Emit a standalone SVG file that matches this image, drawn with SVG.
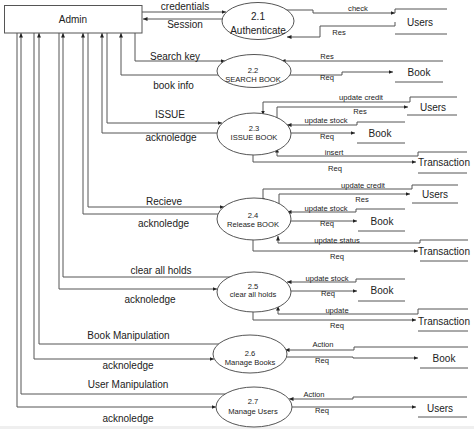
<svg xmlns="http://www.w3.org/2000/svg" width="474" height="429" viewBox="0 0 474 429">
<defs>
<marker id="ah" markerWidth="5" markerHeight="5" refX="4.5" refY="2.5" orient="auto" markerUnits="userSpaceOnUse">
<path d="M0,0.5 L4.5,2.5 L0,4.5 Z" fill="#222"/>
</marker>
<style>
.ln{fill:none;stroke:#555;stroke-width:1}
.ar{marker-end:url(#ah)}
.nd{fill:#fff;stroke:#555;stroke-width:1}
.st{fill:none;stroke:#555;stroke-width:1}
text{font-family:"Liberation Sans",Arial,sans-serif;fill:#222;text-anchor:middle}
.lb{font-size:10px}
.sm{font-size:7.6px}
.pn{font-size:7.6px}
.big{font-size:10px}
</style>
</defs>
<rect x="0" y="0" width="474" height="429" fill="#fff"/>
<rect x="0" y="426" width="474" height="3" fill="#efefef"/>

<g id="connectors">
<!-- Admin <-> processes -->
<path class="ln ar" d="M142,12 H226"/>
<path class="ln ar" d="M240,19 H143"/>
<path class="ln ar" d="M135,33 V61 H225"/>
<path class="ln ar" d="M240,75 H121 V33"/>
<path class="ln ar" d="M107,33 V123 H222"/>
<path class="ln ar" d="M240,133 H102 V33"/>
<path class="ln ar" d="M88,33 V207 H224"/>
<path class="ln ar" d="M240,214 H83 V33"/>
<path class="ln ar" d="M240,277 H63 V33"/>
<path class="ln ar" d="M59,33 V289 H217"/>
<path class="ln ar" d="M240,344 H39 V33"/>
<path class="ln ar" d="M34,33 V359 H214"/>
<path class="ln ar" d="M240,394 H21 V33"/>
<path class="ln ar" d="M17,33 V407 H216"/>
<!-- 2.1 -->
<path class="ln ar" d="M280,10 H313 V13 H395"/>
<path class="ln ar" d="M395,22 V26 H320 V37 H287"/>
<!-- 2.2 -->
<path class="ln ar" d="M395,61 H281"/>
<path class="ln ar" d="M280,75 H342 V72 H393"/>
<!-- 2.3 -->
<path class="ln ar" d="M410,97 V102 H263 V115"/>
<path class="ln ar" d="M277,125 V107 H408"/>
<path class="ln ar" d="M357,122 V125 H287"/>
<path class="ln ar" d="M280,133 H355"/>
<path class="ln ar" d="M418,152 V156 H277 V148"/>
<path class="ln ar" d="M253,145 V162 H416"/>
<!-- 2.4 -->
<path class="ln ar" d="M412,185 V189 H263 V202"/>
<path class="ln ar" d="M279,210 V194 H410"/>
<path class="ln ar" d="M356,209 V212 H287"/>
<path class="ln ar" d="M280,221 H357"/>
<path class="ln ar" d="M420,240 V243 H278 V236"/>
<path class="ln ar" d="M253,230 V251 H418"/>
<!-- 2.5 -->
<path class="ln ar" d="M356,279 V282 H287"/>
<path class="ln ar" d="M280,291 H357"/>
<path class="ln ar" d="M418,309 V314 H278 V306"/>
<path class="ln ar" d="M253,300 V320 H416"/>
<!-- 2.6 -->
<path class="ln ar" d="M420,347 H354 V350 H285"/>
<path class="ln ar" d="M270,357 H353 V358 H418"/>
<!-- 2.7 -->
<path class="ln ar" d="M418,397 H353 V399 H289"/>
<path class="ln ar" d="M270,407 H416"/>

<!-- connector labels -->
<text class="lb" x="185" y="9.5">credentials</text>
<text class="lb" x="185" y="28">Session</text>
<text class="lb" x="175" y="60">Search key</text>
<text class="lb" x="173.5" y="88.5">book info</text>
<text class="lb" x="170" y="118">ISSUE</text>
<text class="lb" x="171" y="140.5">acknoledge</text>
<text class="lb" x="164" y="204.5">Recieve</text>
<text class="lb" x="163.5" y="226.5">acknoledge</text>
<text class="lb" x="161" y="273.5">clear all holds</text>
<text class="lb" x="150" y="302.5">acknoledge</text>
<text class="lb" x="128.5" y="338.5">Book Manipulation</text>
<text class="lb" x="128" y="369">acknoledge</text>
<text class="lb" x="128" y="388">User Manipulation</text>
<text class="lb" x="128" y="421.5">acknoledge</text>

<text class="sm" x="358" y="11">check</text>
<text class="sm" x="339" y="35">Res</text>
<text class="sm" x="327" y="59">Res</text>
<text class="sm" x="327" y="79.5">Req</text>
<text class="sm" x="361" y="100">update credit</text>
<text class="sm" x="360" y="114">Res</text>
<text class="sm" x="326" y="122.5">update stock</text>
<text class="sm" x="327" y="139">Req</text>
<text class="sm" x="334" y="154.5">insert</text>
<text class="sm" x="335" y="170.5">Req</text>
<text class="sm" x="363" y="187.5">update credit</text>
<text class="sm" x="362" y="202">Res</text>
<text class="sm" x="326" y="211">update stock</text>
<text class="sm" x="327" y="226">Req</text>
<text class="sm" x="337" y="243">update status</text>
<text class="sm" x="337" y="259">Req</text>
<text class="sm" x="327" y="280.5">update stock</text>
<text class="sm" x="328" y="296">Req</text>
<text class="sm" x="337" y="313">update</text>
<text class="sm" x="337" y="328">Req</text>
<text class="sm" x="323" y="347">Action</text>
<text class="sm" x="322" y="363">Req</text>
<text class="sm" x="314" y="396.5">Action</text>
<text class="sm" x="322" y="413">Req</text>
</g>

<g id="admin">
<rect class="nd" x="4.5" y="5.5" width="137.5" height="27.5"/>
<text class="big" x="73" y="22.5">Admin</text>
</g>

<g id="p21">
<ellipse class="nd" cx="258" cy="21" rx="36" ry="18.5"/>
<text class="big" x="258" y="20">2.1</text>
<text class="big" x="258" y="33.5">Authenticate</text>
</g>
<g id="p22">
<ellipse class="nd" cx="254" cy="71" rx="37" ry="16.5"/>
<text class="pn" x="253" y="73">2.2</text>
<text class="pn" x="253" y="82">SEARCH BOOK</text>
</g>
<g id="p23">
<ellipse class="nd" cx="254" cy="134" rx="37" ry="21"/>
<text class="pn" x="254" y="130.5">2.3</text>
<text class="pn" x="254" y="139.5">ISSUE BOOK</text>
</g>
<g id="p24">
<ellipse class="nd" cx="254" cy="219" rx="37" ry="21"/>
<text class="pn" x="253" y="217.5">2.4</text>
<text class="pn" x="253" y="227">Release BOOK</text>
</g>
<g id="p25">
<ellipse class="nd" cx="254" cy="292" rx="37" ry="20"/>
<text class="pn" x="253" y="288.5">2.5</text>
<text class="pn" x="253" y="297">clear all holds</text>
</g>
<g id="p26">
<ellipse class="nd" cx="250" cy="354" rx="37" ry="19"/>
<text class="pn" x="250" y="356">2.6</text>
<text class="pn" x="250" y="364.5">Manage Books</text>
</g>
<g id="p27">
<ellipse class="nd" cx="254" cy="407" rx="38" ry="20"/>
<text class="pn" x="253" y="404">2.7</text>
<text class="pn" x="253" y="413.5">Manage Users</text>
</g>

<g id="users1">
<path class="st" d="M395,9 H447 M395,9 V13 M395,34 H447"/>
<text class="lb" x="420" y="26">Users</text>
</g>
<g id="book1">
<path class="st" d="M395,61 H443 M395,82 H443"/>
<text class="lb" x="419" y="76">Book</text>
</g>
<g id="users2">
<path class="st" d="M410,97 H457 M407,115 H457"/>
<text class="lb" x="433" y="110.5">Users</text>
</g>
<g id="book2">
<path class="st" d="M357,122 H405 M357,143 H405"/>
<text class="lb" x="380" y="136.5">Book</text>
</g>
<g id="trans1">
<path class="st" d="M418,152 H467 M418,173 H467"/>
<text class="lb" x="444" y="166">Transaction</text>
</g>
<g id="users3">
<path class="st" d="M412,185 H458 M412,203 H458"/>
<text class="lb" x="435" y="198">Users</text>
</g>
<g id="book3">
<path class="st" d="M356,209 H405 M358,231 H405"/>
<text class="lb" x="382" y="225">Book</text>
</g>
<g id="trans2">
<path class="st" d="M420,240 H468 M420,261 H468"/>
<text class="lb" x="444" y="254.5">Transaction</text>
</g>
<g id="book4">
<path class="st" d="M356,279 H405 M358,301 H405"/>
<text class="lb" x="382" y="294">Book</text>
</g>
<g id="trans3">
<path class="st" d="M418,309 H468 M418,331 H468"/>
<text class="lb" x="444" y="324.5">Transaction</text>
</g>
<g id="book5">
<path class="st" d="M420,347 H468 M420,368 H468"/>
<text class="lb" x="444" y="362">Book</text>
</g>
<g id="users4">
<path class="st" d="M418,397 H467 M418,417 H467"/>
<text class="lb" x="440" y="411.5">Users</text>
</g>
</svg>
